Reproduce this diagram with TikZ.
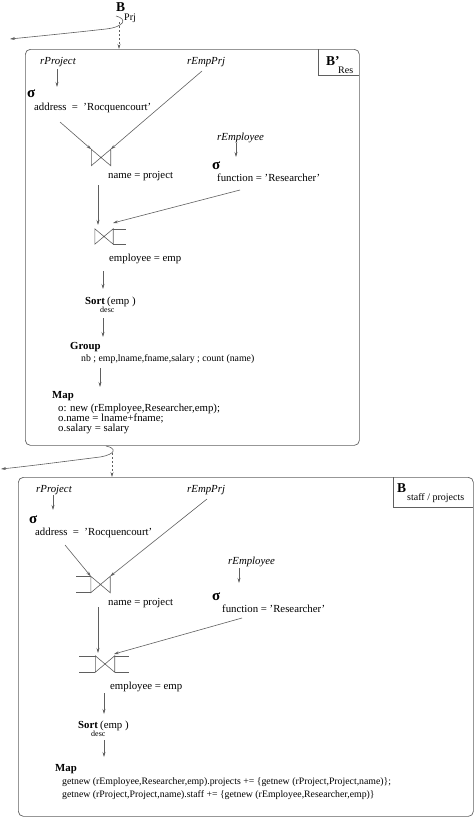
\documentclass[tikz,border=0pt]{standalone}
\usepackage{fontspec}
\setmainfont{Liberation Serif}
\usetikzlibrary{arrows.meta}
\definecolor{lc}{RGB}{95,95,95}
\newcommand{\fs}{\fontsize{10.8}{12}\selectfont}
\newcommand{\fsl}{\fontsize{9.8}{11}\selectfont}
\begin{document}
\begin{tikzpicture}[x=1pt,y=-1pt,
  ln/.style={draw=lc, line width=0.6pt},
  arr/.style={ln, -{Stealth[length=5pt,width=3pt]}},
  dsh/.style={arr, dash pattern=on 2pt off 2pt},
  txt/.style={inner sep=0pt, anchor=base west, font=\fs},
  ltx/.style={txt, font=\fsl},
  itx/.style={txt, font=\fs\itshape},
  bdx/.style={txt, font=\fs\bfseries},
  sgx/.style={txt, font=\fontsize{15}{15}\selectfont\bfseries},
  bigb/.style={txt, font=\fontsize{13.5}{14}\selectfont\bfseries},
  smx/.style={txt, font=\fontsize{8}{8}\selectfont},
  boxx/.style={draw=lc, line width=0.7pt, rounded corners=5pt, inner sep=0pt, anchor=north west},
  jbox/.style={inner sep=0pt, minimum width=19pt, minimum height=16pt}
]
\useasboundingbox (0,0) rectangle (474,819);

% ---------- top ----------
\node[bigb] (B0) at (116,11) {B};
\node[txt, font=\fontsize{10}{10}\selectfont] (prj) at (124,20) {Prj};
\coordinate (c0) at (116,16);
\coordinate (w0) at (10,39);
\draw[arr] (c0) .. controls (128,19) and (124,27) .. (106,29) .. controls (70,33) and (40,36) .. (w0);
\coordinate (d0) at (119,22);

% ---------- box 1 ----------
\node[boxx, minimum width=334pt, minimum height=396pt] (b1) at (25,49) {};
\draw[dsh] (d0) -- (d0 |- b1.north);
\draw[ln] (318,49) -- (318,75) -- (359,75);
\node[bigb] (Bp) at (326,65) {B’};
\node[txt, font=\fontsize{10}{10}\selectfont] (res) at (338,73) {Res};

\node[itx] (rp1) at (40,64) {rProject};
\node[sgx] (s1) at (27,97) {σ};
\node[txt] (ad1) at (34,110) {address\ \ =\ \ 'Rocquencourt'};
\node[itx] (rep1) at (187,64) {rEmpPrj};
\coordinate (rp1a) at (57,69);
\draw[arr] (rp1a) -- (57,87);

\node[jbox] (j1) at (101,157.5) {};
\draw[ln] (j1.north west) -- (j1.south east) -- (j1.north east) -- (j1.south west) -- cycle;
\coordinate (rep1a) at (202,71);
\coordinate (ad1a) at (60,122);
\draw[arr] (rep1a) -- (j1.north east);
\draw[arr] (ad1a) -- (j1.north west);
\node[txt] (np1) at (108,178) {name = project};

\node[itx] (re1) at (217,140) {rEmployee};
\draw[arr] (236,143) -- (236,157);
\node[sgx] (s2) at (212,169) {σ};
\node[txt] (fn1) at (217,181) {function = 'Researcher'};

\node[jbox, minimum width=18pt, minimum height=15pt] (j2) at (104,236.5) {};
\draw[ln] (j2.north west) -- (j2.south east) -- (j2.north east) -- (j2.south west) -- cycle;
\draw[ln] (j2.north east) -- ++(13,0);
\draw[ln] (j2.south east) -- ++(13,0);
\coordinate (fn1a) at (240,190);
\coordinate (np1a) at (98,185);
\draw[arr] (fn1a) -- (113,223);
\draw[arr] (np1a) -- (98,225);
\node[txt] (ee1) at (109,261) {employee = emp};

\draw[arr] (103,271) -- (103,289);
\node[bdx] (so1) at (85,304) {Sort};
\node[txt] (se1) at (107,304) {(emp )};
\node[smx] (de1) at (100,312) {desc};
\draw[arr] (103,318) -- (103,337);
\node[bdx] (gr1) at (70,349) {Group};
\node[ltx] (nb1) at (81,361) {nb ; emp,lname,fname,salary ; count (name)};
\draw[arr] (100,368) -- (100,387);
\node[bdx] (mp1) at (52,398) {Map};
\node[txt] (m11) at (58,411) {o: new (rEmployee,Researcher,emp);};
\node[txt] (m12) at (58,421) {o.name = lname+fname;};
\node[txt] (m13) at (58,431) {o.salary = salary};

% ---------- between ----------
\coordinate (c1) at (106,446);
\coordinate (w1) at (1,469);
\draw[arr] (c1) .. controls (116,448) and (117,454) .. (100,457) .. controls (60,462) and (30,466) .. (w1);
\coordinate (d1) at (112,453);

% ---------- box 2 ----------
\node[boxx, minimum width=455pt, minimum height=339pt] (b2) at (18,477) {};
\draw[dsh] (d1) -- (d1 |- b2.north);
\draw[ln] (393,477) -- (393,507) -- (473,507);
\node[bigb] (B2) at (397,492) {B};
\node[txt, font=\fontsize{10}{10}\selectfont] (sp) at (407,500) {staff / projects};

\node[itx] (rp2) at (36,492) {rProject};
\draw[arr] (53,495) -- (53,510);
\node[sgx] (s3) at (29,523) {σ};
\node[txt] (ad2) at (35,535) {address\ \ =\ \ 'Rocquencourt'};
\node[itx] (rep2) at (187,492) {rEmpPrj};

\node[jbox] (j3) at (100.5,584.5) {};
\draw[ln] (j3.north west) -- (j3.south east) -- (j3.north east) -- (j3.south west) -- cycle;
\draw[ln] (j3.north west) -- ++(-15,0);
\draw[ln] (j3.south west) -- ++(-15,0);
\coordinate (rep2a) at (207,499);
\coordinate (ad2a) at (65,545);
\draw[arr] (rep2a) -- (j3.north east);
\draw[arr] (ad2a) -- (j3.north west);
\node[txt] (np2) at (108,605) {name = project};

\node[itx] (re2) at (228,564) {rEmployee};
\draw[arr] (239,568) -- (239,583);
\node[sgx] (s4) at (212,600) {σ};
\node[txt] (fn2) at (222,612) {function = 'Researcher'};

\node[jbox] (j4) at (105,664) {};
\draw[ln] (j4.north west) -- (j4.south east) -- (j4.north east) -- (j4.south west) -- cycle;
\draw[ln] (j4.north west) -- ++(-16,0);
\draw[ln] (j4.south west) -- ++(-16,0);
\draw[ln] (j4.north east) -- ++(14,0);
\draw[ln] (j4.south east) -- ++(14,0);
\coordinate (fn2a) at (242,618);
\coordinate (np2a) at (98,607);
\draw[arr] (fn2a) -- (114,654);
\draw[arr] (np2a) -- (98,653);
\node[txt] (ee2) at (110,689) {employee = emp};

\draw[arr] (104,693) -- (104,714);
\node[bdx] (so2) at (78,728) {Sort};
\node[txt] (se2) at (100,728) {(emp )};
\node[smx] (de2) at (91,736) {desc};
\draw[arr] (104,740) -- (104,757);
\node[bdx] (mp2) at (55,771) {Map};
\node[ltx] (m21) at (62,784) {getnew (rEmployee,Researcher,emp).projects += \{getnew (rProject,Project,name)\};};
\node[ltx] (m22) at (62,797) {getnew (rProject,Project,name).staff += \{getnew (rEmployee,Researcher,emp)\}};
\end{tikzpicture}
\end{document}
